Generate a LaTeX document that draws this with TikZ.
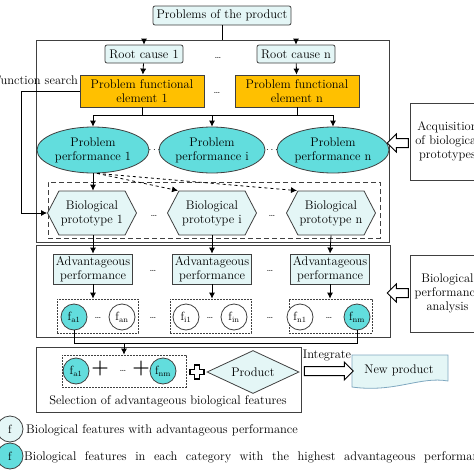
\documentclass[tikz,border=0pt]{standalone}
\usepackage{tikz}
\usetikzlibrary{arrows.meta, positioning, shapes.geometric, shapes.symbols, shapes.arrows}
\definecolor{linegray}{HTML}{404040}
\definecolor{lightcyan}{HTML}{E4F6F6}
\definecolor{cyanfill}{HTML}{62DDDD}
\definecolor{gold}{HTML}{FFC000}
\definecolor{docedge}{HTML}{7FA8C0}

\begin{document}
\begin{tikzpicture}[
    x=1pt, y=-1pt,
    font=\fontsize{12.5}{14}\selectfont,
    frame/.style={draw=linegray, line width=0.9pt, minimum width=#1},
    rootbox/.style={draw=linegray, rounded corners=2pt, fill=lightcyan, line width=0.8pt,
        minimum width=78pt, minimum height=18pt, inner sep=1pt},
    pfe/.style={draw=linegray, fill=gold, line width=0.8pt, minimum width=124pt,
        minimum height=32pt, align=center, inner sep=1pt},
    perf/.style={ellipse, draw=linegray, fill=cyanfill, line width=0.8pt,
        minimum width=#1, minimum height=46pt, align=center, inner sep=0pt},
    proto/.style={signal, signal to=west and east, signal pointer angle=125,
        draw=linegray, fill=lightcyan, line width=0.8pt, minimum width=89pt,
        minimum height=44pt, align=center, inner sep=0pt},
    adv/.style={draw=linegray, fill=lightcyan, line width=0.8pt, minimum width=79pt,
        minimum height=30pt, align=center, inner sep=1pt},
    feat/.style={circle, draw=linegray, fill=white, line width=0.8pt, minimum size=26pt,
        inner sep=0pt, font=\fontsize{12}{12}\selectfont},
    bestfeat/.style={feat, fill=cyanfill},
    group/.style={draw=linegray, dash pattern=on 2pt off 1pt, line width=0.8pt},
    protogroup/.style={draw=linegray, dash pattern=on 5pt off 3pt, line width=0.8pt},
    hollow/.style={single arrow, draw=black, fill=white, line width=1pt, inner xsep=0pt,
        inner ysep=4pt, single arrow head extend=4.5pt, single arrow tip angle=90},
    arrow/.style={-{Latex[length=6pt, width=6pt]}, line width=0.8pt, draw=black},
    link/.style={line width=0.8pt, draw=black},
    dots/.style={font=\fontsize{10}{10}\selectfont, inner sep=0pt}
]
\useasboundingbox (0,0) rectangle (474,474);

% Frames
\node[frame=353pt, minimum height=202pt] (frameA) at (212.5,141) {};
\node[frame=354pt, minimum height=92pt] (frameB) at (213,291) {};
\node[frame=265pt, minimum height=65pt] (frameC) at (168.5,379.5) {};
\node[protogroup, minimum width=332pt, minimum height=56pt] (protos) at (214,210) {};

% Top
\node[rootbox, minimum width=138pt, minimum height=19pt] (problems) at (222,15.5) {Problems of the product};
\node[rootbox] (root1) at (144,54) {Root cause 1};
\node[rootbox] (rootn) at (296,54) {Root cause n};
\node[dots] at (218,58) {\dots};

\node[pfe] (pfe1) at (142,91) {Problem functional\\element 1};
\node[pfe] (pfen) at (297,91) {Problem functional\\element n};
\node[dots] at (217,93) {\dots};
\node[anchor=east, inner sep=0pt] (fsearch) at (78,80) {Function search};

% Problem performances
\node[perf=112pt] (perf1) at (93,150) {Problem\\performance 1};
\node[perf=106pt] (perfi) at (212,150) {Problem\\performance i};
\node[perf=112pt] (perfn) at (333,150) {Problem\\performance n};
\node[dots] at (154.5,150) {$\cdots$};
\node[dots] at (272,150) {$\cdots$};

% Biological prototypes
\node[proto] (proto1) at (92,213) {Biological\\prototype 1};
\node[proto] (protoi) at (212,213) {Biological\\prototype i};
\node[proto] (proton) at (331,213) {Biological\\prototype n};
\node[dots] at (154,216) {\dots};
\node[dots] at (272,216) {\dots};

% Advantageous performances
\node[adv] (adv1) at (93,269) {Advantageous\\performance};
\node[adv] (advi) at (212,269) {Advantageous\\performance};
\node[adv] (advn) at (330,269) {Advantageous\\performance};
\node[dots] at (153,271) {\dots};
\node[dots] at (270,271) {\dots};

% Feature groups
\node[group, minimum width=81pt, minimum height=34pt] (grp1) at (97.5,316) {};
\node[group, minimum width=81pt, minimum height=34pt] (grpi) at (210.5,316) {};
\node[group, minimum width=83pt, minimum height=34pt] (grpn) at (330.5,316) {};
\node[bestfeat] (fa1) at (74,317) {f$_{\mathrm{a1}}$};
\node[feat] (fan) at (122,317) {f$_{\mathrm{an}}$};
\node[feat] (fi1) at (186,317) {f$_{\mathrm{i1}}$};
\node[feat] (fin) at (234,317) {f$_{\mathrm{in}}$};
\node[feat] (fn1) at (300,317) {f$_{\mathrm{n1}}$};
\node[bestfeat] (fnm) at (357,317) {f$_{\mathrm{nm}}$};
\node[dots] at (98,318) {\dots};
\node[dots] at (153,318) {\dots};
\node[dots] at (210,318) {\dots};
\node[dots] at (270,318) {\dots};
\node[dots] at (329,318) {\dots};

% Selection
\node[group, minimum width=124pt, minimum height=32pt] (selgrp) at (124,371) {};
\node[bestfeat] (sfa1) at (76,371) {f$_{\mathrm{a1}}$};
\node[bestfeat] (sfnm) at (163,371) {f$_{\mathrm{nm}}$};
\node[font=\fontsize{20}{20}\selectfont\bfseries, inner sep=0pt] (plusa) at (100,369) {+};
\node[dots] at (123,371) {\dots};
\node[font=\fontsize{20}{20}\selectfont\bfseries, inner sep=0pt] (plusb) at (141,369) {+};
\coordinate (bigplus) at (197,372);
\draw[line width=1.6pt, fill=white, shift={(bigplus)}]
    (-2.5,-7) -- (2.5,-7) -- (2.5,-2.5) -- (7,-2.5) -- (7,2.5) -- (2.5,2.5) -- (2.5,7)
    -- (-2.5,7) -- (-2.5,2.5) -- (-7,2.5) -- (-7,-2.5) -- (-2.5,-2.5) -- cycle;
\node[diamond, draw=linegray, fill=lightcyan, line width=0.8pt, aspect=2.1,
    minimum width=92pt, minimum height=43pt, inner sep=0pt] (product) at (253,372) {Product};
\node (sellabel) at (168,401) {Selection of advantageous biological features};

% New product
\coordinate (docnw) at (352,355);
\draw[docedge, fill=lightcyan, line width=0.8pt] (docnw) -- (448,355) -- (448,381)
    .. controls (420,376) and (395,393) .. (352,387) -- cycle;
\node (newprod) at (399,370) {New product};
\node[hollow, minimum height=49pt] (integ) at (326.5,371) {};
\node (integlabel) at (327,356) {Integrate};

% Stage boxes on the right
\node[draw=linegray, line width=0.8pt, minimum width=75pt, minimum height=77pt,
    align=center] (acq) at (447.5,141.5) {Acquisition\\of biological\\prototypes};
\node[draw=linegray, line width=0.8pt, minimum width=75pt, minimum height=77pt,
    align=center] (bpa) at (447.5,293.5) {Biological\\performance\\analysis};
\node[hollow, shape border rotate=180, minimum height=21pt] (acqarrow) at (400,143) {};
\node[hollow, shape border rotate=180, minimum height=21pt] (bpaarrow) at (400,293) {};

% Legend
\node[feat, fill=lightcyan] (legf) at (10,429) {f};
\node[anchor=west, inner sep=0pt] (legtext) at (26,430) {Biological features with advantageous performance};
\node[bestfeat] (legbest) at (10,456) {f};
\node[anchor=west, inner sep=0pt] (legbesttext) at (24,457)
    {\makebox[466pt][s]{Biological features in each category with the highest advantageous performance}};

% Root causes
\draw[link] (problems.south) -- (problems.south |- frameA.north);
\draw[arrow] (root1.north |- frameA.north) -- (root1.north);
\draw[arrow] (rootn.north |- frameA.north) -- (rootn.north);
\draw[arrow] (root1) -- (pfe1);
\draw[arrow] (rootn) -- (pfen);

% Functional elements to performances
\coordinate (split) at (0,115);
\draw[link] (pfe1.south) -- (pfe1.south |- split);
\draw[link] (pfen.south) -- (pfen.south |- split);
\draw[link] (perf1.north |- split) -- (perfn.north |- split);
\draw[arrow] (perf1.north |- split) -- (perf1.north);
\draw[arrow] (perfi.north |- split) -- (perfi.north);
\draw[arrow] (perfn.north |- split) -- (perfn.north);
\draw[arrow] (pfe1.west) -- ++(-58,0) |- (proto1.west);

% Performances to prototypes
\draw[arrow] (perf1.south) -- (perf1.south |- proto1.north);
\draw[arrow, dashed] ([xshift=4pt]perf1.south) -- ([xshift=-34pt]protoi.north);
\draw[arrow, dashed] ([xshift=4pt]perf1.south) -- ([xshift=-34pt]proton.north);

% Prototypes to advantageous performances
\draw[arrow] (perf1.south |- proto1.south) -- (perf1.south |- adv1.north);
\draw[arrow] (protoi.south) -- (advi.north);
\draw[arrow] (proton.south) -- (advn.north);
\draw[arrow] (adv1.south) -- (adv1.south |- grp1.north);
\draw[arrow] (advi.south) -- (advi.south |- grpi.north);
\draw[arrow] (advn.south) -- (advn.south |- grpn.north);

% Best features to selection
\draw[link] (fa1.south) -- ++(0,13) -| (fnm.south);
\draw[arrow] (selgrp.north |- 0,343) -- (selgrp.north);

\end{tikzpicture}
\end{document}
